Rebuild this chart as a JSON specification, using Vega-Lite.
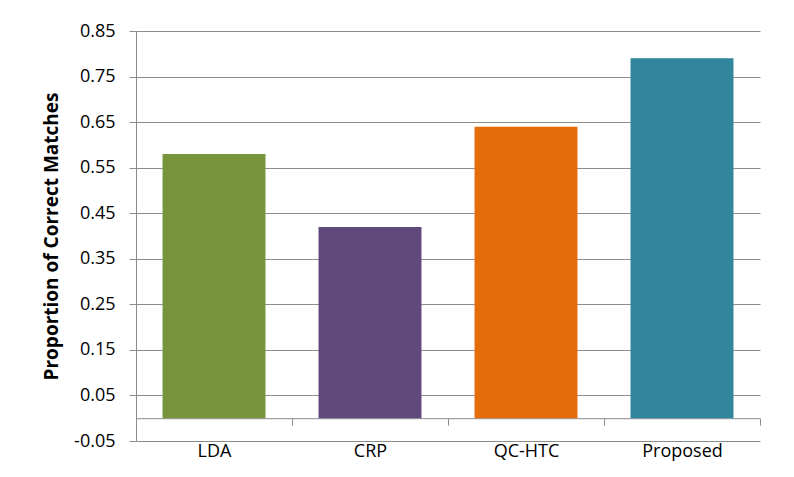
{
  "$schema": "https://vega.github.io/schema/vega-lite/v6.json",
  "width": 624,
  "height": 410,
  "autosize": "none",
  "padding": {"left": 136, "top": 31, "right": 34, "bottom": 36},
  "background": "white",
  "data": {
    "values": [
      {"method": "LDA", "proportion": 0.58},
      {"method": "CRP", "proportion": 0.42},
      {"method": "QC-HTC", "proportion": 0.64},
      {"method": "Proposed", "proportion": 0.79}
    ]
  },
  "mark": {"type": "bar", "width": {"band": 0.66}},
  "encoding": {
    "x": {
      "field": "method",
      "type": "nominal",
      "sort": null,
      "scale": {"paddingInner": 0, "paddingOuter": 0},
      "axis": {
        "title": null,
        "labelAngle": 0,
        "offset": -22.8,
        "tickBand": "extent",
        "tickSize": 7,
        "labelPadding": 17,
        "domainColor": "#8c8c8c",
        "tickColor": "#8c8c8c",
        "labelFont": "Open Sans",
        "labelFontSize": 18,
        "labelColor": "black"
      }
    },
    "y": {
      "field": "proportion",
      "type": "quantitative",
      "scale": {"domain": [-0.05, 0.85], "nice": false, "zero": false},
      "axis": {
        "values": [-0.05, 0.05, 0.15, 0.25, 0.35, 0.45, 0.55, 0.65, 0.75, 0.85],
        "format": ".2f",
        "labelExpr": "replace(datum.label, '−', '-')",
        "title": "Proportion of Correct Matches",
        "titleFont": "Open Sans",
        "titleFontSize": 19,
        "titleFontWeight": "bold",
        "titleColor": "black",
        "titlePadding": 12,
        "labelFont": "Open Sans",
        "labelFontSize": 18,
        "labelColor": "black",
        "labelPadding": 14,
        "tickSize": 7,
        "tickColor": "#8c8c8c",
        "domainColor": "#8c8c8c",
        "gridColor": "#8c8c8c",
        "gridOpacity": 1
      }
    },
    "y2": {"datum": 0},
    "color": {
      "field": "method",
      "type": "nominal",
      "scale": {
        "domain": ["LDA", "CRP", "QC-HTC", "Proposed"],
        "range": ["#77933C", "#604A7B", "#E46C0A", "#31859C"]
      },
      "legend": null
    }
  },
  "config": {"view": {"stroke": null}}
}
